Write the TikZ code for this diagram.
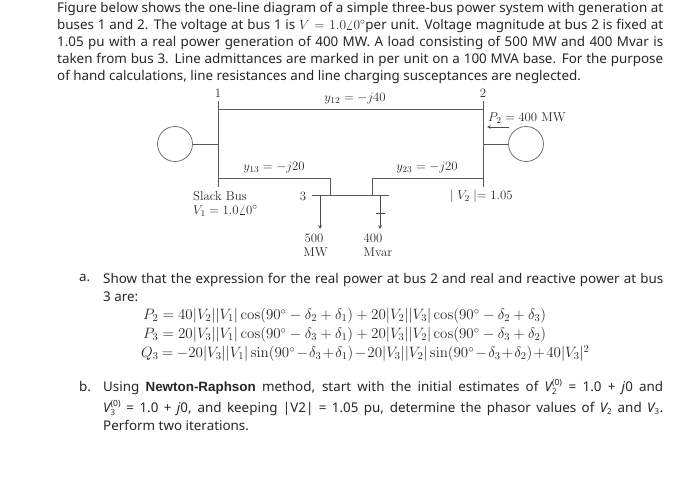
\documentclass[tikz,border=0pt]{standalone}
\usepackage{fix-cm}
\usepackage[no-math]{fontspec}
\usepackage{amsmath}
\setmainfont{Noto Sans}
\newfontfamily\lmserif{Latin Modern Roman}
\newfontfamily\boldsans{Liberation Sans}
\newcommand{\sfV}[1]{$\text{\itshape V}_{\text{\fontsize{8}{8}\selectfont #1}}$}
\newcommand{\sfVz}[1]{$\text{\itshape V}_{\text{\fontsize{8}{8}\selectfont #1}}^{\text{\fontsize{8.5}{8.5}\selectfont(0)}}$}
\tikzset{
  para/.style={anchor=north west,inner sep=0pt,text width=#1,align=justify,text=black!85,font=\fontsize{13.4}{17.1}\selectfont},
  lbl/.style={inner sep=0pt,text=black!85,font=\lmserif\fontsize{12.8}{13}\selectfont},
  formula/.style={anchor=base west,inner sep=0pt,text=black!85,font=\lmserif\fontsize{15}{15}\selectfont},
  busbar/.style={line width=1pt,draw=black!65},
  wire/.style={line width=0.9pt,draw=black!65},
  gen/.style={circle,draw=black!55,line width=0.8pt,minimum size=35pt,inner sep=0pt},
  flow/.style={-stealth,line width=0.7pt,draw=black!70},
}
\begin{document}
\begin{tikzpicture}[x=1pt,y=-1pt]
  \useasboundingbox (0,0) rectangle (700,502);
  % problem statement
  \node[para=606pt] (intro) at (57,2) {Figure below shows the one-line diagram of a simple three-bus power system with generation at\linebreak
    buses 1 and 2. The voltage at bus 1 is {\lmserif$V$ = 1.0$\angle$0$^{\circ}$}per unit. Voltage magnitude at bus 2 is fixed at\linebreak
    1.05 pu with a real power generation of 400 MW. A load consisting of 500 MW and 400 Mvar is\linebreak
    taken from bus 3. Line admittances are marked in per unit on a 100 MVA base. For the purpose\linebreak
    of hand calculations, line resistances and line charging susceptances are neglected.};
  % buses
  \coordinate (b1top) at (218,101);
  \coordinate (b1bot) at (218,187);
  \coordinate (b2top) at (483,101);
  \coordinate (b2bot) at (483,187);
  \coordinate (b3l) at (312,196);
  \coordinate (b3r) at (389,196);
  \draw[busbar] (b1top) -- (b1bot);
  \draw[busbar] (b2top) -- (b2bot);
  \draw[busbar] (b3l) -- (b3r);
  % generators
  \node[gen] (g1) at (175,144) {};
  \node[gen] (g2) at (526,144) {};
  \draw[wire] (g1) -- (g1 -| b1top);
  \draw[wire] (g2) -- (g2 -| b2top);
  % lines
  \coordinate (l12a) at (218,109);
  \coordinate (l12b) at (483,109);
  \coordinate (l13a) at (218,178);
  \coordinate (l13b) at (330,196);
  \coordinate (l23a) at (483,178);
  \coordinate (l23b) at (372,196);
  \draw[wire] (l12a) -- (l12b);
  \draw[wire] (l13a) -| (l13b);
  \draw[wire] (l23a) -| (l23b);
  % loads
  \coordinate (lp) at (320,196);
  \coordinate (lpe) at (320,229);
  \coordinate (lq) at (380,196);
  \coordinate (lqe) at (380,229);
  \draw[flow] (lp) -- (lpe);
  \draw[flow] (lq) -- (lqe);
  \coordinate (tl) at (376,213);
  \coordinate (tr) at (385,213);
  \draw[line width=0.7pt,draw=black!70] (tl) -- (tr);
  % P2 arrow
  \coordinate (p2a) at (509,127);
  \coordinate (p2b) at (487,127);
  \draw[flow] (p2a) -- (p2b);
  % labels
  \node[lbl] (n1) at (218,93) {1};
  \node[lbl] (n2) at (483,93) {2};
  \node[lbl] (n3) at (303,196) {3};
  \node[lbl] (y12) at (355,99) {$y_{12}=-j40$};
  \node[lbl] (y13) at (274,168) {$y_{13}=-j20$};
  \node[lbl] (y23) at (427,168) {$y_{23}=-j20$};
  \node[lbl,anchor=west] (slack) at (193,196) {Slack Bus};
  \node[lbl,anchor=west] (v1) at (193,211) {$V_1=1.0\angle0^{\circ}$};
  \node[lbl,anchor=west] (p2) at (488,118) {$P_2=400$ MW};
  \node[lbl,anchor=west] (v2) at (450,196) {$\mid V_2\mid=1.05$};
  \node[lbl] (l500) at (314,238) {500};
  \node[lbl] (lmw) at (315.5,252) {MW};
  \node[lbl] (l400) at (373,238) {400};
  \node[lbl] (lmvar) at (378,252) {Mvar};
  % part a
  \node[para=20pt,align=left] (amark) at (79,273.5) {a.};
  \node[para=560pt] (atext) at (103,273.5) {Show that the expression for the real power at bus 2 and real and reactive power at bus\linebreak
    3 are:};
  \node[formula] (eqa) at (143,319.5) {$P_2=40|V_2||V_1|\cos(90^{\circ}-\delta_2+\delta_1)+20|V_2||V_3|\cos(90^{\circ}-\delta_2+\delta_3)$};
  \node[formula] (eqb) at (143,338.5) {$P_3=20|V_3||V_1|\cos(90^{\circ}-\delta_3+\delta_1)+20|V_3||V_2|\cos(90^{\circ}-\delta_3+\delta_2)$};
  \node[formula] (eqc) at (141,357.5) {\medmuskip=1.5mu\thickmuskip=4mu$Q_3=-20|V_3||V_1|\sin(90^{\circ}-\delta_3+\delta_1)-20|V_3||V_2|\sin(90^{\circ}-\delta_3+\delta_2)+40|V_3|^2$};
  % part b
  \node[para=20pt,align=left] (bmark) at (79,381.5) {b.};
  \node[para=560pt] (btextA) at (103,379) {Using {\boldsans\bfseries Newton-Raphson} method, start with the initial estimates of \sfVz{2} = 1.0 + \textit{j}0 and\linebreak};
  \node[para=560pt] (btextB) at (103,400) {\sfVz{3} = 1.0 + \textit{j}0, and keeping |V2| = 1.05 pu, determine the phasor values of \sfV{2} and \sfV{3}.\linebreak};
  \node[para=560pt] (btextC) at (103,420.5) {Perform two iterations.};
\end{tikzpicture}
\end{document}
